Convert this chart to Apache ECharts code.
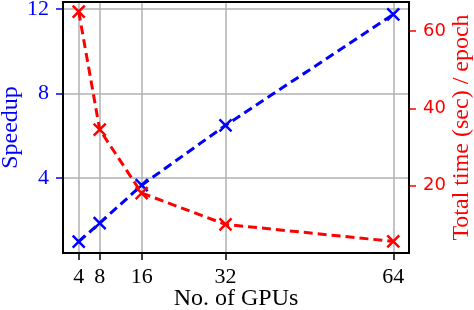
<!DOCTYPE html>
<html>
<head>
<meta charset="utf-8">
<script src="https://cdn.jsdelivr.net/npm/echarts@6/dist/echarts.min.js"></script>
<style>
  html, body { margin: 0; padding: 0; background: #fff; }
  #chart { width: 474px; height: 310px; }
</style>
</head>
<body>
<div id="chart"></div>
<script>
// data
var gpus = [4, 8, 16, 32, 64];
var speedup = [1, 1.87, 3.67, 6.5, 11.75];
var timePerEpoch = [65, 34.5, 18.1, 10, 5.6];

var xTicks = [4, 8, 16, 32, 64];
var speedTicks = [4, 8, 12];
var timeTicks = [20, 40, 60];

var serif = "'Liberation Serif', 'Times New Roman', serif";
var sans = "'DejaVu Sans', sans-serif";
var xMark = 'path://M0,0L10,10M10,0L0,10';

function pairs(xs, ys) {
    return xs.map(function (x, i) { return [x, ys[i]]; });
}

var chart = echarts.init(document.getElementById('chart'));
chart.setOption({
    animation: false,
    grid: {
        left: 63,
        right: 65,
        top: 2,
        bottom: 57,
        outerBoundsMode: 'none',
        containLabel: false,
        show: true,
        borderColor: '#000',
        borderWidth: 2,
        z: 5
    },
    xAxis: {
        type: 'value',
        min: 1,
        max: 67,
        name: 'No. of GPUs',
        nameLocation: 'middle',
        nameGap: 34,
        nameMoveOverlap: false,
        nameTextStyle: { fontFamily: serif, fontSize: 24, color: '#000' },
        axisLine: { show: false },
        axisTick: { show: true, length: 7, customValues: xTicks, lineStyle: { color: '#000', width: 1.5 } },
        axisLabel: { customValues: xTicks, margin: 13, fontFamily: serif, fontSize: 22, color: '#000' },
        splitLine: { show: true, lineStyle: { color: '#b0b0b0', width: 1.5 } }
    },
    yAxis: [
        {
            type: 'value',
            position: 'left',
            min: 0.46,
            max: 12.34,
            name: 'Speedup',
            nameLocation: 'middle',
            nameGap: 40,
            nameMoveOverlap: false,
            nameTextStyle: { fontFamily: serif, fontSize: 24, color: '#0000ff' },
            axisLine: { show: false },
            axisTick: { show: true, length: 7, customValues: speedTicks, lineStyle: { color: '#0000ff', width: 1.5 } },
            axisLabel: { customValues: speedTicks, margin: 14, fontFamily: serif, fontSize: 22, color: '#0000ff' },
            splitLine: { show: true, lineStyle: { color: '#b0b0b0', width: 1.5 } }
        },
        {
            type: 'value',
            position: 'right',
            min: 2.6,
            max: 67.5,
            name: 'Total time (sec) / epoch',
            nameLocation: 'middle',
            nameGap: 41,
            nameMoveOverlap: false,
            nameTextStyle: { fontFamily: serif, fontSize: 24, color: '#ff0000' },
            axisLine: { show: false },
            axisTick: { show: true, length: 7, customValues: timeTicks, lineStyle: { color: '#ff0000', width: 1.5 } },
            axisLabel: { customValues: timeTicks, margin: 14, fontFamily: sans, fontSize: 18, color: '#ff0000' },
            splitLine: { show: false }
        }
    ],
    series: [
        {
            name: 'Speedup',
            type: 'line',
            yAxisIndex: 0,
            data: pairs(gpus, speedup),
            symbol: xMark,
            symbolSize: 12,
            showAllSymbol: true,
            lineStyle: { color: '#0000ff', width: 3, type: [9, 5] },
            itemStyle: { color: '#0000ff', borderColor: '#0000ff', borderWidth: 2.5 },
            z: 3
        },
        {
            name: 'Time',
            type: 'line',
            yAxisIndex: 1,
            data: pairs(gpus, timePerEpoch),
            symbol: xMark,
            symbolSize: 12,
            showAllSymbol: true,
            lineStyle: { color: '#ff0000', width: 3, type: [9, 5] },
            itemStyle: { color: '#ff0000', borderColor: '#ff0000', borderWidth: 2.5 },
            z: 4
        }
    ]
});
</script>
</body>
</html>
